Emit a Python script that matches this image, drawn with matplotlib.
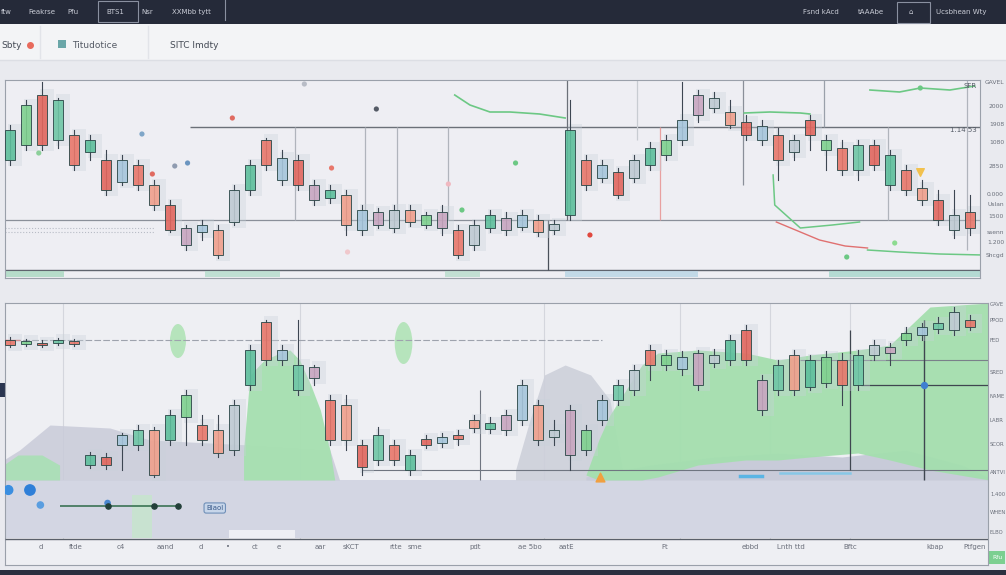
import matplotlib.pyplot as plt
from matplotlib.patches import Rectangle, Ellipse

W, H = 1006, 575

# ---- top panel candles (session index, price units) ----
top_open  = [120, 135, 185, 140, 145, 128, 120,  98, 115,  95,  75,  52,  48,  50,  58,  90, 140, 100, 120,  95,
              82,  85,  50,  68,  52,  70,  55,  68,  50,  35,  52,  62,  53,  60,  50,  65, 120, 102, 108, 102,
             115, 125, 140, 185, 172, 168, 158, 140, 145, 128, 160, 130, 132, 110, 135,  95, 110,  92,  80,  50, 68]
top_close = [150, 175, 135, 180, 115, 140,  90, 120,  95,  75,  50,  35,  55,  25,  90, 115, 115, 122,  95,  80,
              90,  55,  70,  55,  70,  58,  65,  52,  25,  55,  65,  50,  65,  48,  56, 150,  95, 115,  85, 120,
             132, 140, 160, 165, 182, 155, 145, 154, 120, 140, 145, 140, 110, 135, 115, 125,  90,  80,  60,  65, 52]
top_high  = [155, 180, 198, 182, 150, 145, 130, 125, 120, 100,  80,  55,  60,  55,  95, 120, 142, 130, 125, 100,
              95,  90,  75,  72,  75,  75,  68,  75,  55,  60,  70,  68,  70,  65,  60, 180, 125, 120, 112, 125,
             138, 145, 198, 190, 188, 180, 165, 160, 152, 145, 165, 145, 140, 140, 140, 130, 115, 100,  90,  90, 85]
top_low   = [115, 130, 130, 132, 110, 120,  85,  95,  90,  70,  48,  30,  40,  22,  55,  85, 110,  95,  90,  75,
              77,  45,  45,  52,  48,  54,  52,  45,  22,  30,  48,  45,  50,  44,  46,  60,  90,  98,  82,  98,
             110, 120, 135, 158, 168, 152, 140, 135, 100, 120, 130, 110, 105, 100, 110,  90,  85,  75,  55,  42, 45]

# ---- bottom panel candles ----
bot_open  = [225, 221, 222, 222, 224, 100, 108, 120, 120, 135, 125, 148, 140, 135, 115, 180, 243, 205, 175, 198,
             165, 160, 120, 105, 120,  95, 126, 122, 130, 145, 136, 150, 145, 160, 128, 155, 115, 145, 165, 175,
             215, 200, 196, 212, 202, 205, 235, 185, 175, 210, 178, 182, 205, 180, 210, 218, 225, 230, 236, 235, 245]
bot_close = [220, 224, 220, 225, 221, 110, 100, 130, 135,  90, 150, 170, 125, 112, 160, 215, 205, 215, 200, 187,
             125, 125,  98, 130, 105, 110, 120, 128, 126, 137, 142, 135, 180, 125, 135, 110, 135, 165, 180, 195,
             200, 210, 208, 180, 210, 225, 205, 155, 200, 175, 205, 208, 180, 210, 220, 212, 232, 238, 242, 253, 238]
bot_high  = [228, 226, 225, 227, 226, 113, 112, 132, 140, 138, 155, 175, 150, 150, 165, 220, 245, 220, 245, 200,
             170, 170, 125, 138, 125, 115, 130, 132, 135, 150, 148, 155, 185, 165, 145, 160, 140, 170, 185, 200,
             220, 215, 214, 215, 216, 230, 240, 190, 205, 215, 210, 214, 212, 215, 225, 222, 238, 242, 248, 258, 250]
bot_low   = [218, 219, 218, 220, 219,  97,  96,  95, 115,  88, 120, 120, 120, 108, 110, 175, 200, 200, 170, 180,
             120, 115,  90, 100, 100,  90, 117, 118, 120, 133, 132, 130, 140, 120, 120,  95, 110, 140, 160, 170,
             185, 195, 190, 175, 198, 200, 200, 150, 170, 170, 175, 178, 160, 175, 205, 200, 220, 225, 232, 230, 235]

# ---- overlays: top panel ----
ma_a_x = [27.8, 28.75, 30, 31.25, 33.1, 34.7]
ma_a_y = [185, 175, 168, 168, 166, 162]
ma_b_x = [45.9, 47.5, 49.4, 50]
ma_b_y = [167, 168, 167, 166]
ma_c_x = [53.75, 55.6, 56.9, 58.75, 60.3]
ma_c_y = [190, 188, 192, 190, 194]
band_g_x = [47.7, 47.8, 49.4, 51.4, 53.1]
band_g_y = [105, 75, 52, 55, 58]
band_r_x = [47.9, 49.4, 50.6, 52.2, 53.6]
band_r_y = [58, 48, 40, 34, 32]
band_g2_x = [53.6, 55.6, 58.1, 60.8]
band_g2_y = [30, 28, 26, 25]
dots_x = [13.9, 22.9, 18.4, 8.25, 10.3, 11.1, 8.9, 1.8, 20.1, 28.25, 27.4, 21.1, 31.6, 36.25, 52.3, 55.3, 56.9]
dots_y = [162, 171, 196, 146, 114, 117, 106, 127, 112, 70, 96, 28, 117, 45, 23, 37, 192]
dots_c = ['#e06a60', '#555b66', '#b8bcc6', '#7fa6c8', '#8f9bb0', '#6b95c0', '#e06a60', '#8ccf9a', '#e8776b',
          '#6cc884', '#f0b8c0', '#f0c8cc', '#6cc884', '#e0483e', '#6cc884', '#8ddb90', '#6cc884']

# ---- overlays: bottom panel ----
green1_x = [14.6, 15, 15.9, 16.6, 17.5, 18.1, 18.8, 19.4, 20, 20.3]
green1_y = [115, 190, 205, 210, 215, 205, 180, 155, 115, 85]
green2_x = [36.0, 36.8, 37.5, 38.5, 39.5, 40.5, 43, 46, 48, 50, 53, 55, 57.5, 61.2]
green2_top = [90, 125, 150, 175, 200, 212, 215, 212, 205, 210, 215, 220, 258, 262]
green2_bot = [90, 85, 85, 85, 85, 88, 100, 105, 105, 108, 112, 105, 95, 85]
gray1_x = [-0.4, 0.6, 2.5, 6.25, 8.75, 15, 20, 20.6]
gray1_y = [105, 115, 140, 137, 125, 120, 115, 85]
gray2_x = [31.6, 32.5, 33.4, 34.7, 36.3, 37.5, 38.4]
gray2_y = [95, 145, 190, 200, 190, 165, 85]
greenL_x = [-0.4, 0.5, 2, 3.1]
greenL_y = [100, 110, 110, 100]

top_ticks = [197, 174, 155, 138, 113, 85, 75, 63, 48, 38, 25]
top_tick_labels = ['GAVEL', '2000', '1908', '1080', '2850', '0.000', 'Uslan', '1500', 'ssenn', '1.200', 'Shcgd']
bot_ticks = [260, 245, 225, 193, 169, 145, 120, 92, 70, 52, 33]
bot_tick_labels = ['GAVE', 'PPOD', 'FED', 'SRED', 'NAME', 'LABR', 'SCOR', 'ANTVI', '1.400', 'WHEN', 'ELBO']
x_ticks = [1.9, 4.1, 6.9, 9.7, 11.9, 13.6, 15.3, 16.8, 19.4, 21.3, 24.1, 25.3, 29.1, 32.5, 34.8, 40.9, 46.3, 48.8, 52.5, 57.8, 60.3]
x_tick_labels = ['d', 'ftde', 'c4', 'aand', 'd', '•', 'ct', 'e', 'aar', 'sKCT', 'rtte', 'sme', 'pdt',
                 'ae 5bo', 'aatE', 'Ft', 'ebbd', 'Lnth ttd', 'Bftc', 'kbap', 'Ptfgen']

up_cols = ['#5dbf9c', '#7fd18f', '#a7c6dc', '#6fc6a6', '#bfcbd3']
dn_cols = ['#e8776b', '#f0a08c', '#e2675e', '#c8a6c0']


def candles(ax, o, c, h, l):
    for i in range(len(o)):
        up = c[i] >= o[i]
        col = up_cols[i % len(up_cols)] if up else dn_cols[i % len(dn_cols)]
        lo, hi = min(o[i], c[i]), max(o[i], c[i])
        # pale ghost behind body
        ax.add_patch(Rectangle((i - 0.15, lo - 6), 0.9, hi - lo + 12, facecolor='#c9d2da',
                               alpha=0.35, lw=0, zorder=3))
        ax.plot([i, i], [l[i], h[i]], color='#3d4652', lw=0.8, zorder=4)
        ax.add_patch(Rectangle((i - 0.32, lo), 0.64, max(hi - lo, 1.5), facecolor=col,
                               edgecolor='#2e4a4a', lw=0.7, alpha=0.9, zorder=5))


fig = plt.figure(figsize=(W / 100, H / 100), dpi=100)
fig.patch.set_facecolor('#e9eaef')

# chrome (header + toolbar)
bg = fig.add_axes([0, 0, 1, 1])
bg.set_xlim(0, W)
bg.set_ylim(H, 0)
bg.axis('off')
bg.add_patch(Rectangle((0, 0), W, 24, facecolor='#252a39', lw=0))
bg.add_patch(Rectangle((0, 24), W, 36, facecolor='#f3f4f6', lw=0))
bg.plot([0, W], [60, 60], color='#dcdee4', lw=1)
bg.add_patch(Rectangle((98, 1), 40, 21, facecolor='none', edgecolor='#8a90a0', lw=0.8))
bg.plot([225, 225], [0, 20], color='#8a90a0', lw=0.8)
bg.add_patch(Rectangle((897, 2), 33, 21, facecolor='none', edgecolor='#8a90a0', lw=0.8))
for x, t in [(1, 'ftw'), (28, 'Feakrse'), (67, 'Pfu'), (106, 'BTS1'), (141, 'Nsr'),
             (172, 'XXMbb tytt'), (803, 'Fsnd kAcd'), (858, 'tAAAbe'), (909, '⌂'), (936, 'Ucsbhean Wty')]:
    bg.text(x, 12, t, color='#c9ccd6', fontsize=5, va='center')
bg.plot([40, 40], [26, 58], color='#e2e4e9', lw=1)
bg.plot([148, 148], [26, 58], color='#e2e4e9', lw=1)
bg.text(1, 45, 'Sbty', fontsize=6.5, color='#444a55', va='center')
bg.plot(30, 45, 'o', color='#e86a5c', ms=4)
bg.add_patch(Rectangle((58, 40), 8, 8, facecolor='#6aa6a8', lw=0))
bg.text(72, 45, 'Titudotice', fontsize=6.5, color='#555b66', va='center')
bg.text(170, 45, 'SITC Imdty', fontsize=6.5, color='#444a55', va='center')
bg.add_patch(Rectangle((0, 570), W, 5, facecolor='#2b3040', lw=0))

# ---- top panel ----
ax1 = fig.add_axes([5 / W, 1 - 278 / H, 975 / W, 198 / H])
ax1.set_facecolor('#eeeef3')
ax1.set_xlim(-0.31, 60.63)
ax1.set_ylim(2, 200)
for s in ax1.spines.values():
    s.set_color('#9aa0aa')
    s.set_linewidth(0.8)
ax1.set_xticks([])
ax1.set_yticks([])

ax1.hlines(153, 11.25, 61, color='#6b7078', lw=1, zorder=2)
ax1.hlines(60, -0.3, 61, color='#8a8f99', lw=0.9, zorder=2)
ax1.hlines([52, 48], -0.3, 9, color='#b8bcc6', lw=0.8, linestyle=':', zorder=2)
ax1.hlines(10, -0.3, 61, color='#5f646e', lw=1, zorder=2)
for a, b, c in [(-0.3, 3.4, '#a8d8c0'), (12.2, 16.9, '#b4dccb'), (27.2, 29.4, '#b8dccc'),
                (34.7, 43, '#b8d4e4'), (51.2, 61, '#a6d6cc')]:
    ax1.fill_between([a, b], 3, 9, color=c, alpha=0.8, lw=0, zorder=2)
for x, y0, y1, c in [(17.8, 60, 153, '#b0b4bc'), (22.2, 60, 153, '#b0b4bc'), (24.2, 60, 153, '#b0b4bc'),
                     (27.4, 60, 153, '#b0b4bc'), (34.8, 60, 200, '#6b7078'), (33.6, 10, 60, '#4a505a'),
                     (39.2, 140, 200, '#c8ccd2'), (40.6, 60, 153, '#e8a0a0'), (45.8, 95, 200, '#8a8f99'),
                     (50.9, 153, 200, '#9aa0aa'), (54.9, 60, 153, '#b0b4bc'), (59.8, 30, 200, '#b0b4bc')]:
    ax1.vlines(x, y0, y1, color=c, lw=0.9, zorder=2)

candles(ax1, top_open, top_close, top_high, top_low)

ax1.plot(ma_a_x, ma_a_y, color='#6cc884', lw=1.2, zorder=6)
ax1.plot(ma_b_x, ma_b_y, color='#6cc884', lw=1.2, zorder=6)
ax1.plot(ma_c_x, ma_c_y, color='#6cc884', lw=1.2, zorder=6)
ax1.plot(band_g_x, band_g_y, color='#6cc884', lw=1.1, zorder=6)
ax1.plot(band_r_x, band_r_y, color='#e07070', lw=1.0, zorder=6)
ax1.plot(band_g2_x, band_g2_y, color='#6cc884', lw=1.1, zorder=6)
ax1.scatter(dots_x, dots_y, s=14, c=dots_c, zorder=7, lw=0)
ax1.scatter([56.9], [108], marker='v', s=30, color='#f2c14e', zorder=7)
ax1.text(60.4, 194, 'SFR', fontsize=5, color='#555b66', ha='right', va='center', zorder=8)
ax1.text(60.4, 150, '1.14 53', fontsize=5, color='#555b66', ha='right', va='center', zorder=8)

for v, t in zip(top_ticks, top_tick_labels):
    y = 280 - v
    bg.text(1004, y, t, fontsize=4.3, color='#6a6f7a', va='center', ha='right')

# ---- bottom panel ----
ax2 = fig.add_axes([5 / W, 1 - 565 / H, 983 / W, 262 / H])
ax2.set_facecolor('#eeeff3')
ax2.set_xlim(-0.31, 61.13)
ax2.set_ylim(0, 262)
for s in ax2.spines.values():
    s.set_color('#9aa0aa')
    s.set_linewidth(0.8)
ax2.set_xticks([])
ax2.set_yticks([])

for x in [3.3, 18.1, 33.4, 41.9, 47.5, 52.5]:
    ax2.vlines(x, 26, 262, color='#d4d6dd', lw=0.8, zorder=1)

ax2.fill_between([-0.31, 61.13], 27, 85, color='#d3d6e3', lw=0, zorder=1)
ax2.fill_between([7.6, 8.9], 27, 70, color='#c4e8c8', alpha=0.7, lw=0, zorder=1)
ax2.fill_between([13.7, 17.8], 27, 35, color='#eeeff4', lw=0, zorder=1)
ax2.fill_between(gray1_x, 85, gray1_y, color='#c9cbd9', alpha=0.85, lw=0, zorder=1)
ax2.fill_between(greenL_x, 85, greenL_y, color='#a9e0b4', alpha=0.9, lw=0, zorder=1)
ax2.fill_between(gray2_x, 85, gray2_y, color='#cdd0da', alpha=0.9, lw=0, zorder=1)
ax2.fill_between([36, 40, 44, 48, 52, 56, 59.5, 61.13], 85, [88, 100, 108, 112, 108, 115, 100, 88],
                 color='#c8cbd9', lw=0, zorder=1)
ax2.fill_between(green1_x, 85, green1_y, color='#a6e0b0', alpha=0.95, lw=0, zorder=2)
ax2.fill_between(green2_x, green2_bot, green2_top, color='#a4dfae', alpha=0.95, lw=0, zorder=2)
ax2.add_patch(Ellipse((10.5, 224), 1.0, 34, facecolor='#b6e4bc', lw=0, zorder=2))
ax2.add_patch(Ellipse((24.6, 222), 1.1, 42, facecolor='#b6e4bc', lw=0, zorder=2))

ax2.hlines(225, -0.3, 37, color='#9ea3ad', lw=0.8, linestyle=(0, (6, 2)), zorder=3)
ax2.hlines(225, -0.3, 0.6, color='#e07070', lw=1, zorder=3)
ax2.hlines(205, 49.4, 61.1, color='#7a808a', lw=0.8, zorder=3)
ax2.hlines(180, 53.2, 61.1, color='#3f4650', lw=0.9, zorder=3)
ax2.hlines(95, 22, 61.1, color='#6f7580', lw=0.8, zorder=3)
ax2.vlines(57.1, 85, 245, color='#3f4650', lw=1, zorder=3)
ax2.vlines(52.5, 95, 235, color='#3f4650', lw=0.9, zorder=3)
ax2.vlines(29.4, 85, 175, color='#6f7580', lw=0.8, zorder=3)

candles(ax2, bot_open, bot_close, bot_high, bot_low)

ax2.scatter([57.1], [180], s=18, color='#3f7fd0', zorder=7)
ax2.scatter([-0.1, 1.25, 1.9, 6.1], [75, 75, 60, 62], s=[40, 55, 20, 14],
            color=['#3a8ee0', '#2f7fd8', '#5a9ee0', '#4a88d0'], zorder=7)
ax2.hlines(59, 3.1, 10.6, color='#2e6a48', lw=1.1, zorder=6)
ax2.scatter([6.1, 9, 10.5], [59, 59, 59], s=14, color='#23403a', zorder=7)
ax2.text(12.8, 57, 'Blaol', fontsize=5, color='#3a5a8a', ha='center', va='center', zorder=8,
         bbox=dict(boxstyle='round,pad=0.3', fc='#c7d6ea', ec='#6f8fb8', lw=0.8))
ax2.scatter([36.9], [88], marker='^', s=40, color='#f0a040', zorder=7)
ax2.plot([45.6, 47.0], [89, 89], color='#3fb0e8', lw=2.5, alpha=0.8, zorder=6)
ax2.plot([48.1, 52.5], [92, 92], color='#6cc6ec', lw=1.8, alpha=0.7, zorder=6)
ax2.hlines(26, -0.3, 61.1, color='#5a606a', lw=1, zorder=6)
for x, t in zip(x_ticks, x_tick_labels):
    ax2.text(x, 18, t, fontsize=5, color='#6a6f7a', ha='center', va='center')

# right-hand labels of the lower panel sit above everything
for v, t in zip(bot_ticks, bot_tick_labels):
    y = 565 - v
    fig.text(990 / W, 1 - y / H, t, fontsize=3.8, color='#6a6f7a', va='center', ha='left', zorder=10)
bg.add_patch(Rectangle((989, 551), 16, 13, facecolor='#7ccf90', lw=0))
bg.text(997, 557.5, 'Rfu', fontsize=4.3, color='white', ha='center', va='center')
bg.add_patch(Rectangle((0, 383), 6, 14, facecolor='#2a3550', lw=0))

bg.set_zorder(-1)
bg.patch.set_alpha(0)
fig.savefig('out.png', dpi=100)
